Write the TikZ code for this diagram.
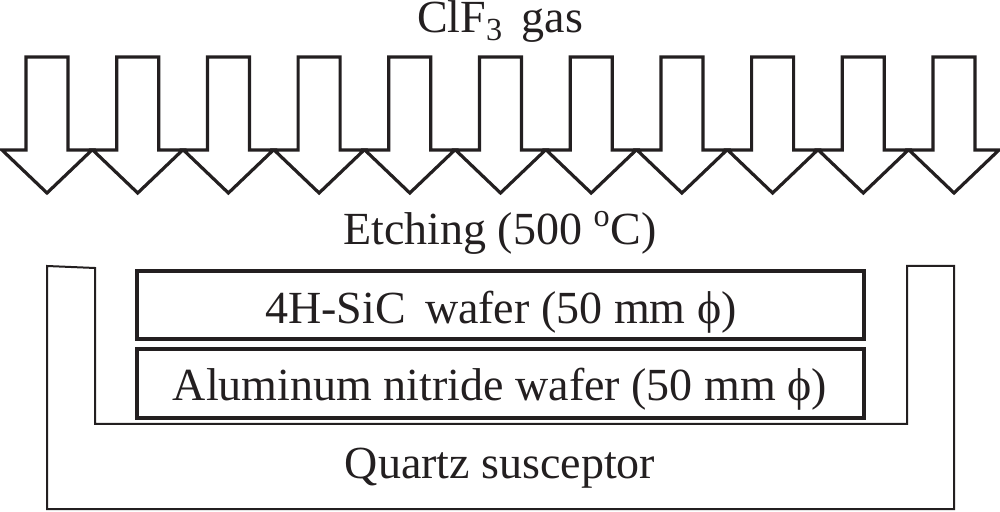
\documentclass[tikz,border=0pt]{standalone}
\usepackage{fontspec}
\setmainfont{Liberation Serif}
\definecolor{ink}{RGB}{35,31,32}
\tikzset{
  lbl/.style={anchor=base, inner sep=0pt, text=ink, font=\fontsize{23}{27}\selectfont},
  gasarrow/.style={draw=ink, line width=1.6pt, line join=miter, fill=white},
  wafer/.style={draw=ink, line width=1.6pt},
  susc/.style={draw=ink, line width=1pt, line join=miter}
}
\begin{document}
\begin{tikzpicture}[x=0.5pt,y=-0.5pt]
\useasboundingbox (0,0) rectangle (1000,512);
% title
\node[lbl] (gas) at (500,33) {ClF\textsubscript{3}\hspace{0.15em} gas};
% arrows
\foreach \i in {0,...,10}{
  \pgfmathsetmacro{\cx}{47+90.7*\i}
  \draw[gasarrow] (\cx-21,57) -- (\cx+21,57) -- (\cx+21,150) -- (\cx+45,150)
     -- (\cx,193) -- (\cx-45,150) -- (\cx-21,150) -- cycle;
}
\node[lbl] (etch) at (500,245) {Etching (500 \textsuperscript{o}C)};
% susceptor
\draw[susc] (47,266) -- (95,268) -- (95,424) -- (907,424) -- (907,266)
  -- (954,266) -- (954,509) -- (47,509) -- cycle;
% wafers
\draw[wafer] (137,271) rectangle (864,339);
\draw[wafer] (137,349) rectangle (864,418);
\node[lbl] (sic) at (501,324) {4H-SiC\, wafer (50 mm ϕ)};
\node[lbl] (aln) at (500,401) {Aluminum nitride wafer (50 mm ϕ)};
\node[lbl] (quartz) at (500,479) {Quartz susceptor};
\end{tikzpicture}
\end{document}
